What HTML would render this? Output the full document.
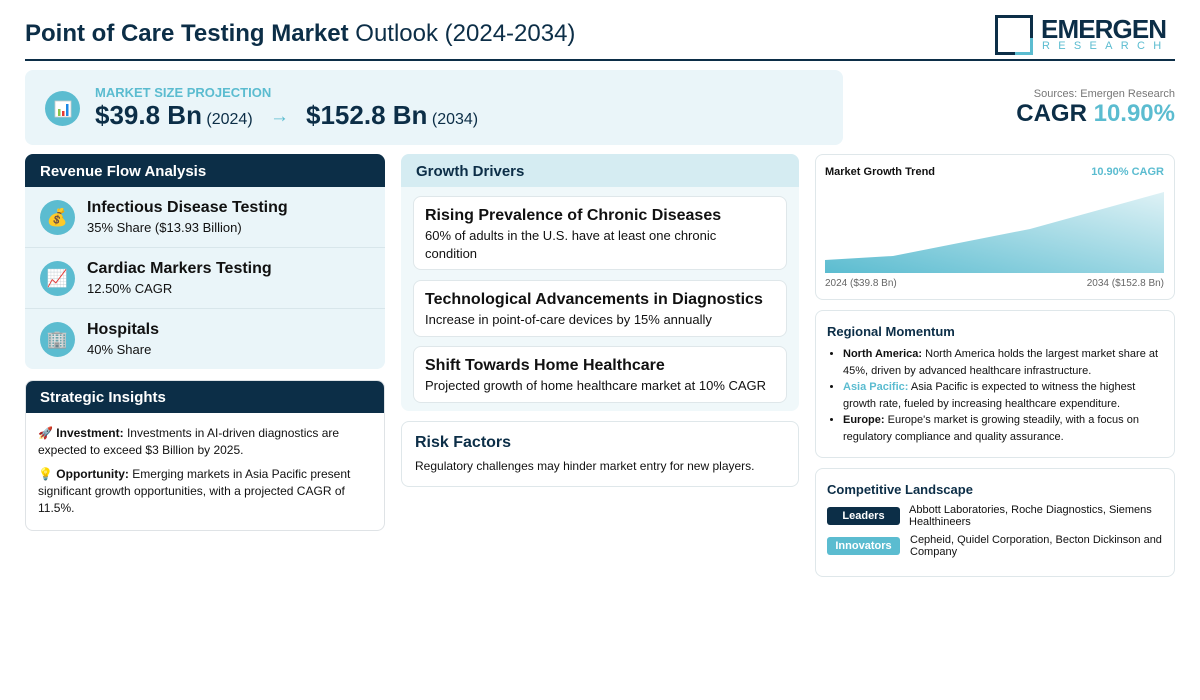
<!DOCTYPE html>
<html><head><meta charset="utf-8"><style>
*{margin:0;padding:0;box-sizing:border-box}
body{width:1200px;height:700px;background:#fff;font-family:"Liberation Sans",Arial,sans-serif;color:#111;position:relative;overflow:hidden}
.abs{position:absolute}
.navy{color:#0c2e47}
.lb{color:#5bbcd0}
.circ{position:absolute;width:35px;height:35px;border-radius:50%;background:#5bbcd0;display:flex;align-items:center;justify-content:center;font-size:17px;font-family:"Noto Color Emoji","DejaVu Sans",sans-serif}
.card{position:absolute;background:#fff;border:1px solid #dfe7ea;border-radius:8px}
</style></head><body>

<div class="abs navy" style="left:25px;top:20px;font-size:24px;white-space:nowrap"><b>Point of Care Testing Market</b> Outlook (2024-2034)</div>
<div class="abs" style="left:25px;top:59px;width:1150px;height:2px;background:#0c2e47"></div>

<!-- logo -->
<div class="abs" style="left:995px;top:15px;width:38px;height:40px;border:3px solid #0c2e47"></div>
<div class="abs" style="left:1024px;top:38px;width:9px;height:17px;background:#fff"></div>
<div class="abs" style="left:1030px;top:38px;width:3px;height:17px;background:#5bbcd0"></div>
<div class="abs" style="left:1015px;top:52px;width:18px;height:3px;background:#5bbcd0"></div>
<div class="abs navy" style="left:1041px;top:14px;font-size:26px;font-weight:bold;letter-spacing:-0.9px">EMERGEN</div>
<div class="abs lb" style="left:1042px;top:40px;font-size:11px;letter-spacing:8.3px">RESEARCH</div>

<!-- market size -->
<div class="abs" style="left:25px;top:70px;width:818px;height:75px;background:#eaf5f9;border-radius:8px"></div>
<div class="circ" style="left:45px;top:91px">
<svg width="18" height="18" viewBox="0 0 18 18"><rect x="1" y="1" width="16" height="16" fill="#fff" stroke="#ccc" stroke-width="0.8"/><rect x="4" y="9" width="2.5" height="7" fill="#8bc34a"/><rect x="8" y="11" width="2.5" height="5" fill="#e53935"/><rect x="12" y="4" width="2.5" height="12" fill="#1e88e5"/></svg></div>
<div class="abs lb" style="left:95px;top:85px;font-size:13px;font-weight:bold">MARKET SIZE PROJECTION</div>
<div class="abs navy" style="left:95px;top:100px;white-space:nowrap"><span style="font-size:26px;font-weight:bold">$39.8 Bn</span> <span style="font-size:16px">(2024)</span></div>
<div class="abs lb" style="left:270px;top:106px;font-size:19px">→</div>
<div class="abs navy" style="left:306px;top:100px;white-space:nowrap"><span style="font-size:26px;font-weight:bold">$152.8 Bn</span> <span style="font-size:16px">(2034)</span></div>

<div class="abs" style="right:25px;top:88px;font-size:11px;color:#777">Sources: Emergen Research</div>
<div class="abs navy" style="right:25px;top:100px;font-size:24px;font-weight:bold;white-space:nowrap">CAGR <span class="lb">10.90%</span></div>

<!-- Revenue flow -->
<div class="abs" style="left:25px;top:154px;width:360px;height:215px;background:#eaf5f9;border-radius:8px;overflow:hidden">
<div style="height:33px;background:#0c2e47;color:#fff;font-size:15px;font-weight:bold;padding:9px 0 0 15px">Revenue Flow Analysis</div>
<div style="height:61px;border-bottom:1px solid #d8e6eb;position:relative">
<div class="circ" style="left:15px;top:13px">💰</div>
<div class="abs" style="left:62px;top:12px;font-size:16px;font-weight:bold">Infectious Disease Testing</div>
<div class="abs" style="left:62px;top:33px;font-size:13px">35% Share ($13.93 Billion)</div></div>
<div style="height:61px;border-bottom:1px solid #d8e6eb;position:relative">
<div class="circ" style="left:15px;top:13px">📈</div>
<div class="abs" style="left:62px;top:12px;font-size:16px;font-weight:bold">Cardiac Markers Testing</div>
<div class="abs" style="left:62px;top:33px;font-size:13px">12.50% CAGR</div></div>
<div style="height:60px;position:relative">
<div class="circ" style="left:15px;top:13px">🏢</div>
<div class="abs" style="left:62px;top:12px;font-size:16px;font-weight:bold">Hospitals</div>
<div class="abs" style="left:62px;top:33px;font-size:13px">40% Share</div></div>
</div>

<!-- Strategic insights -->
<div class="abs" style="left:25px;top:380px;width:360px;height:151px;background:#fff;border:1px solid #dfe3e6;border-radius:8px;overflow:hidden">
<div style="height:33px;background:#0c2e47;color:#fff;font-size:15px;font-weight:bold;padding:9px 0 0 15px;margin:-1px -1px 0 -1px">Strategic Insights</div>
<div style="padding:12px 12px 0 12px;font-size:12px;line-height:17px">
<div>🚀 <b>Investment:</b> Investments in AI-driven diagnostics are expected to exceed $3 Billion by 2025.</div>
<div style="margin-top:7px">💡 <b>Opportunity:</b> Emerging markets in Asia Pacific present significant growth opportunities, with a projected CAGR of 11.5%.</div>
</div></div>

<!-- Growth drivers -->
<div class="abs" style="left:401px;top:154px;width:398px;height:257px;background:#f0f8fa;border-radius:8px;overflow:hidden">
<div style="height:33px;background:#d5ecf2;font-size:15px;font-weight:bold;padding:9px 0 0 15px" class="navy">Growth Drivers</div>
</div>
<div class="card" style="left:413px;top:196px;width:374px;height:74px">
<div class="abs" style="left:11px;top:10px;font-size:16px;font-weight:bold">Rising Prevalence of Chronic Diseases</div>
<div class="abs" style="left:11px;top:30px;width:315px;font-size:13px;line-height:18px">60% of adults in the U.S. have at least one chronic condition</div></div>
<div class="card" style="left:413px;top:280px;width:374px;height:57px">
<div class="abs" style="left:11px;top:10px;font-size:16px;font-weight:bold;white-space:nowrap">Technological Advancements in Diagnostics</div>
<div class="abs" style="left:11px;top:30px;font-size:13px;line-height:18px">Increase in point-of-care devices by 15% annually</div></div>
<div class="card" style="left:413px;top:346px;width:374px;height:57px">
<div class="abs" style="left:11px;top:10px;font-size:16px;font-weight:bold">Shift Towards Home Healthcare</div>
<div class="abs" style="left:11px;top:30px;font-size:13px;line-height:18px;white-space:nowrap">Projected growth of home healthcare market at 10% CAGR</div></div>

<!-- Risk -->
<div class="card" style="left:401px;top:421px;width:398px;height:66px">
<div class="abs navy" style="left:13px;top:12px;font-size:16px;font-weight:bold">Risk Factors</div>
<div class="abs" style="left:13px;top:37px;font-size:12px">Regulatory challenges may hinder market entry for new players.</div></div>

<!-- Market growth trend -->
<div class="card" style="left:815px;top:154px;width:360px;height:146px">
<div class="abs" style="left:9px;top:11px;font-size:11px;font-weight:bold">Market Growth Trend</div>
<div class="abs lb" style="right:10px;top:11px;font-size:11px;font-weight:bold">10.90% CAGR</div>
<svg class="abs" style="left:9px;top:35px" width="340" height="84" viewBox="0 0 340 84">
<defs><linearGradient id="g" x1="0" y1="1" x2="1" y2="0"><stop offset="0" stop-color="#5bbcd0"/><stop offset="1" stop-color="#5bbcd0" stop-opacity="0.2"/></linearGradient></defs>
<path d="M0,70 L68,66 L205,39 L339,2 L339,83 L0,83 Z" fill="url(#g)"/></svg>
<div class="abs" style="left:9px;top:123px;font-size:10px;color:#666">2024 ($39.8 Bn)</div>
<div class="abs" style="right:10px;top:123px;font-size:10px;color:#666">2034 ($152.8 Bn)</div>
</div>

<!-- Regional -->
<div class="card" style="left:815px;top:310px;width:360px;height:148px">
<div class="abs navy" style="left:11px;top:13px;font-size:13px;font-weight:bold">Regional Momentum</div>
<ul style="position:absolute;left:27px;top:35px;width:320px;font-size:11px;line-height:16.6px">
<li><b>North America:</b> North America holds the largest market share at 45%, driven by advanced healthcare infrastructure.</li>
<li><b class="lb">Asia Pacific:</b> Asia Pacific is expected to witness the highest growth rate, fueled by increasing healthcare expenditure.</li>
<li><b>Europe:</b> Europe's market is growing steadily, with a focus on regulatory compliance and quality assurance.</li>
</ul></div>

<!-- Competitive -->
<div class="card" style="left:815px;top:468px;width:360px;height:109px">
<div class="abs navy" style="left:11px;top:13px;font-size:13px;font-weight:bold">Competitive Landscape</div>
<div class="abs" style="left:11px;top:38px;width:73px;height:18px;background:#0c2e47;color:#fff;border-radius:3px;font-size:11px;font-weight:bold;text-align:center;line-height:18px">Leaders</div>
<div class="abs" style="left:93px;top:35px;width:262px;font-size:11px;line-height:12px">Abbott Laboratories, Roche Diagnostics, Siemens Healthineers</div>
<div class="abs" style="left:11px;top:68px;width:73px;height:18px;background:#5bbcd0;color:#fff;border-radius:3px;font-size:11px;font-weight:bold;text-align:center;line-height:18px">Innovators</div>
<div class="abs" style="left:94px;top:65px;width:262px;font-size:11px;line-height:12px">Cepheid, Quidel Corporation, Becton Dickinson and Company</div>
</div>

</body></html>
